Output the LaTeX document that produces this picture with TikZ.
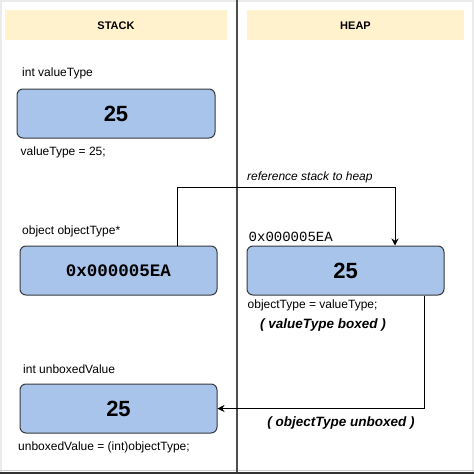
\documentclass[tikz,border=0pt]{standalone}
\usepackage{fontspec}
\setmainfont{Liberation Sans}
\newfontfamily\monofont{Liberation Mono}
\usetikzlibrary{arrows.meta}
\definecolor{hdrfill}{HTML}{FFF2CC}
\definecolor{boxfill}{HTML}{A9C4EB}
\definecolor{boxline}{HTML}{36393D}
\definecolor{divline}{HTML}{4D4D4D}
\definecolor{frameline}{HTML}{EBEBEB}
\definecolor{bottomband}{HTML}{333333}
\tikzset{
  header/.style={fill=hdrfill, draw=none, minimum width=222pt, minimum height=30pt, inner sep=0pt, font=\fontsize{11}{13}\selectfont\bfseries},
  valbox/.style={draw=boxline, fill=boxfill, line width=1pt, rounded corners=6pt, minimum height=49pt, inner sep=0pt},
  numtext/.style={font=\fontsize{22}{26}\selectfont\bfseries},
  lbl/.style={anchor=west, inner sep=0pt, font=\fontsize{12}{14}\selectfont},
  note/.style={anchor=center, inner sep=0pt, font=\fontsize{13.5}{16}\selectfont\bfseries\itshape},
  arr/.style={draw=black, line width=0.9pt, -{Stealth[length=7pt,width=7pt]}}
}
\begin{document}
\begin{tikzpicture}[x=1pt,y=-1pt]
\useasboundingbox (0,0) rectangle (474,474);
% frame
\fill[white] (0,0) rectangle (474,474);
\draw[frameline, line width=2pt] (1,474) -- (1,1) -- (473,1) -- (473,474);
\draw[gray!40, line width=1pt] (0,470.5) -- (474,470.5);
\fill[bottomband] (0,471.5) rectangle (474,474);
% divider
\draw[divline, line width=1.4pt] (237,0) -- (237,471.5);
% headers
\node[header] (hs) at (116,25.3) {STACK};
\node[header, minimum width=217pt] (hh) at (355.5,25.3) {HEAP};
% stack boxes
\node[valbox, minimum width=198pt, numtext] (b1) at (116,113.5) {25};
\node[lbl] (l1) at (22,73) {int valueType};
\node[lbl] (l2) at (20.5,152) {valueType = 25;};
\node[valbox, minimum width=197pt, font=\monofont\fontsize{17.5}{20}\selectfont\bfseries] (b2) at (118.5,270.5) {0x000005EA};
\node[lbl] (l3) at (22,231) {object objectType*};
\node[valbox, minimum width=197pt, numtext] (b4) at (118.5,408.5) {25};
\node[lbl] (l4) at (23,369) {int unboxedValue};
\node[lbl] (l5) at (18,447.5) {unboxedValue = (int)objectType;};
% heap box
\node[valbox, minimum width=197pt, numtext] (b3) at (345.5,270.5) {25};
\node[lbl, font=\monofont\fontsize{14}{16}\selectfont] (l6) at (248.5,236.5) {0x000005EA};
\node[lbl] (l7) at (247.5,305) {objectType = valueType;};
\node[note] (n1) at (323,325) {( valueType boxed )};
\node[lbl, font=\fontsize{12}{14}\selectfont\itshape] (n2) at (247,177.5) {reference stack to heap};
\node[note] (n3) at (341,423) {( objectType unboxed )};
% connectors
\coordinate (t1) at (177.7,187.7);
\coordinate (t2) at (395,187.7);
\draw[arr] (t1 |- b2.north) -- (t1) -- (t2) -- (t2 |- b3.north);
\coordinate (u1) at (424,408.5);
\draw[arr] (u1 |- b3.south) -- (u1) -- (b4.east);
\end{tikzpicture}
\end{document}
